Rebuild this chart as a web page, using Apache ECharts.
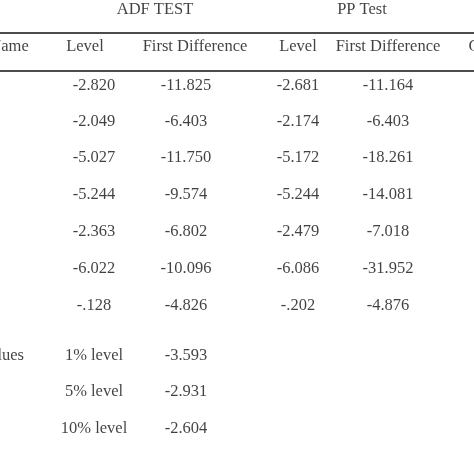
<!DOCTYPE html><html><head><meta charset="utf-8"><script src="https://cdn.jsdelivr.net/npm/echarts@6/dist/echarts.min.js"></script>
<style>html,body{margin:0;background:#fff}#c{width:474px;height:474px}</style></head><body><div id="c"></div><script>
const groupHeaders=["ADF TEST","PP Test"];
const colHeaders=["Name","Level","First Difference","Level","First Difference","C"];
const rowLabels=["","","","","","","","Values","",""];
const adfLevel=["-2.820","-2.049","-5.027","-5.244","-2.363","-6.022","-.128","1% level","5% level","10% level"];
const adfDiff=["-11.825","-6.403","-11.750","-9.574","-6.802","-10.096","-4.826","-3.593","-2.931","-2.604"];
const ppLevel=["-2.681","-2.174","-5.172","-5.244","-2.479","-6.086","-.202","","",""];
const ppDiff=["-11.164","-6.403","-18.261","-14.081","-7.018","-31.952","-4.876","","",""];
// layout
const colX=[2,94,186,298,388];
const hdrX=[9,85,195,298,388,474];
const rowY=[86,122,158,195,232,269,306,356,392,429];
const data=[];
const cols=[rowLabels,adfLevel,adfDiff,ppLevel,ppDiff];
cols.forEach((c,ci)=>c.forEach((t,ri)=>{if(t)data.push({value:[colX[ci],rowY[ri]],t});}));
colHeaders.forEach((t,i)=>data.push({value:[hdrX[i],47],t}));
groupHeaders.forEach((t,i)=>data.push({value:[[155,362][i],10],t}));
const ch=echarts.init(document.getElementById('c'));
ch.setOption({animation:false,
grid:{left:0,right:0,top:0,bottom:0},
xAxis:{type:'value',min:0,max:474,show:false},
yAxis:{type:'value',min:0,max:474,inverse:true,show:false},
graphic:[
{type:'line',shape:{x1:0,y1:33,x2:474,y2:33},style:{stroke:'#111',lineWidth:1.5}},
{type:'line',shape:{x1:0,y1:71,x2:474,y2:71},style:{stroke:'#111',lineWidth:1.5}}],
series:[{type:'scatter',symbolSize:0,data,
label:{show:true,position:'inside',formatter:p=>p.data.t,fontFamily:'Liberation Serif',fontSize:16.5,color:'#111'}}]});
</script></body></html>
